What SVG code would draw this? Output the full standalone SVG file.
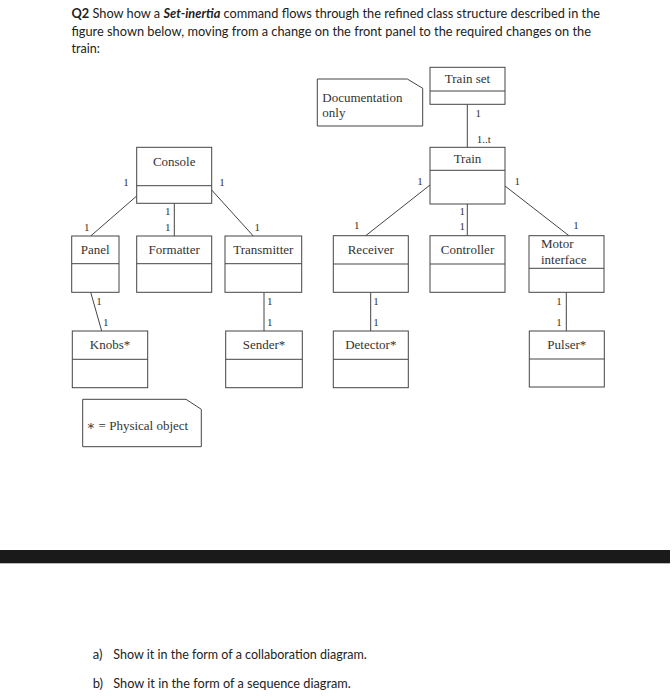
<svg xmlns="http://www.w3.org/2000/svg" width="672" height="700" viewBox="0 0 672 700">
<style>
.q{font-family:Lato,"Open Sans","Liberation Sans",sans-serif;font-size:13px;fill:#222}
.b{fill:#fff;stroke:#444;stroke-width:1}
.d{stroke:#444;stroke-width:1}
.n{font-family:"Liberation Serif","DejaVu Serif",serif;font-size:13px;fill:#333;text-anchor:middle}
.m{font-family:"Liberation Serif","DejaVu Serif",serif;font-size:11px;fill:#333;text-anchor:middle}
.c{stroke:#444;stroke-width:1;fill:none}
</style>
<rect width="672" height="700" fill="#fff"/>
<g id="question">
<text class="q" x="71.5" y="17.5" textLength="528.5" lengthAdjust="spacingAndGlyphs"><tspan font-weight="bold">Q2</tspan> Show how a <tspan font-weight="bold" font-style="italic">Set-inertia</tspan> command flows through the refined class structure described in the</text>
<text class="q" x="71.5" y="35.5" textLength="519.5" lengthAdjust="spacingAndGlyphs">figure shown below, moving from a change on the front panel to the required changes on the</text>
<text class="q" x="71.5" y="53" textLength="28.5" lengthAdjust="spacingAndGlyphs">train:</text>
</g>
<g id="connectors">
<line class="c" x1="136.7" y1="196" x2="90.7" y2="236"/>
<line class="c" x1="174.3" y1="203.3" x2="174.3" y2="236"/>
<line class="c" x1="211.7" y1="190" x2="253.3" y2="236"/>
<line class="c" x1="467.3" y1="104.3" x2="467.3" y2="147.3"/>
<line class="c" x1="430" y1="185" x2="365.7" y2="235.7"/>
<line class="c" x1="467.3" y1="204" x2="467.3" y2="235.7"/>
<line class="c" x1="505" y1="186" x2="569" y2="235.7"/>
<line class="c" x1="90.7" y1="292.3" x2="101.7" y2="331"/>
<line class="c" x1="264" y1="292.3" x2="264" y2="331"/>
<line class="c" x1="370.7" y1="292.3" x2="370.7" y2="331"/>
<line class="c" x1="566.3" y1="292.3" x2="566.3" y2="331"/>
<text class="m" x="126" y="186">1</text>
<text class="m" x="222" y="186">1</text>
<text class="m" x="86.7" y="231">1</text>
<text class="m" x="167.7" y="214.5">1</text>
<text class="m" x="167.7" y="231.4">1</text>
<text class="m" x="257.3" y="231">1</text>
<text class="m" x="478.3" y="116.5">1</text>
<text class="m" x="476.7" y="143" style="text-anchor:start">1..t</text>
<text class="m" x="420" y="185.4">1</text>
<text class="m" x="517.3" y="185.4">1</text>
<text class="m" x="356.7" y="229.4">1</text>
<text class="m" x="462.3" y="215.4">1</text>
<text class="m" x="462.3" y="230.4">1</text>
<text class="m" x="576" y="229.4">1</text>
<text class="m" x="99" y="305.4">1</text>
<text class="m" x="105.7" y="326.4">1</text>
<text class="m" x="269.7" y="305.4">1</text>
<text class="m" x="269.7" y="326.4">1</text>
<text class="m" x="376" y="305.4">1</text>
<text class="m" x="376" y="326.4">1</text>
<text class="m" x="559" y="305.4">1</text>
<text class="m" x="559" y="326.4">1</text>
</g>
<g id="train-set">
<rect class="b" x="430" y="67.3" width="75" height="37"/>
<line class="d" x1="430" y1="91" x2="505" y2="91"/>
<text class="n" x="467.5" y="83.3">Train set</text>
</g>
<g id="documentation-note">
<polygon class="b" points="317.3,79 407.3,79 422.7,88.3 422.7,126 317.3,126"/>
<text class="n" x="322.3" y="101.7" style="text-anchor:start">Documentation</text>
<text class="n" x="322.3" y="117.3" style="text-anchor:start">only</text>
</g>
<g id="console">
<rect class="b" x="136.7" y="147.3" width="75" height="56"/>
<line class="d" x1="136.7" y1="185.7" x2="211.7" y2="185.7"/>
<text class="n" x="174.2" y="166">Console</text>
</g>
<g id="train">
<rect class="b" x="430" y="147.3" width="75" height="56.7"/>
<line class="d" x1="430" y1="170.3" x2="505" y2="170.3"/>
<text class="n" x="467.5" y="163.3">Train</text>
</g>
<g id="panel">
<rect class="b" x="71.7" y="236" width="47.3" height="56.3"/>
<line class="d" x1="71.7" y1="263.7" x2="119" y2="263.7"/>
<text class="n" x="95.3" y="254">Panel</text>
</g>
<g id="formatter">
<rect class="b" x="136.7" y="236" width="75" height="56.3"/>
<line class="d" x1="136.7" y1="263.7" x2="211.7" y2="263.7"/>
<text class="n" x="174.2" y="254">Formatter</text>
</g>
<g id="transmitter">
<rect class="b" x="225" y="236" width="76.7" height="56.3"/>
<line class="d" x1="225" y1="263.7" x2="301.7" y2="263.7"/>
<text class="n" x="263.3" y="254">Transmitter</text>
</g>
<g id="receiver">
<rect class="b" x="333.3" y="235.7" width="75" height="56.6"/>
<line class="d" x1="333.3" y1="264" x2="408.3" y2="264"/>
<text class="n" x="370.8" y="254">Receiver</text>
</g>
<g id="controller">
<rect class="b" x="430" y="235.7" width="75" height="56.6"/>
<line class="d" x1="430" y1="264" x2="505" y2="264"/>
<text class="n" x="467.5" y="254">Controller</text>
</g>
<g id="motor-interface">
<rect class="b" x="529" y="235.7" width="75" height="56.6"/>
<line class="d" x1="529" y1="268.3" x2="604" y2="268.3"/>
<text class="n" x="541" y="248.3" style="text-anchor:start">Motor</text>
<text class="n" x="541" y="264" style="text-anchor:start">interface</text>
</g>
<g id="knobs">
<rect class="b" x="72.3" y="331" width="75.4" height="56.7"/>
<line class="d" x1="72.3" y1="359.3" x2="147.7" y2="359.3"/>
<text class="n" x="110" y="349.3">Knobs*</text>
</g>
<g id="sender">
<rect class="b" x="225.7" y="331" width="76.6" height="56.7"/>
<line class="d" x1="225.7" y1="359.3" x2="302.3" y2="359.3"/>
<text class="n" x="264" y="349.3">Sender*</text>
</g>
<g id="detector">
<rect class="b" x="333.3" y="331" width="75" height="56.7"/>
<line class="d" x1="333.3" y1="359.3" x2="408.3" y2="359.3"/>
<text class="n" x="370.8" y="349.3">Detector*</text>
</g>
<g id="pulser">
<rect class="b" x="529.3" y="331" width="75" height="56"/>
<line class="d" x1="529.3" y1="359" x2="604.3" y2="359"/>
<text class="n" x="566.8" y="349.3">Pulser*</text>
</g>
<g id="physical-object-note">
<polygon class="b" points="82.7,399.3 186,399.3 201.3,409.3 201.3,446.7 82.7,446.7"/>
<text class="n" x="86.5" y="430" style="text-anchor:start">∗ = Physical object</text>
</g>
<rect id="black-bar" x="0" y="550" width="670" height="13.3" fill="#1a1a1a"/>
<g id="tasks">
<text class="q" x="92.7" y="659">a)</text>
<text class="q" x="113.3" y="659" textLength="253.4" lengthAdjust="spacingAndGlyphs">Show it in the form of a collaboration diagram.</text>
<text class="q" x="92.7" y="688">b)</text>
<text class="q" x="113.3" y="688" textLength="237.4" lengthAdjust="spacingAndGlyphs">Show it in the form of a sequence diagram.</text>
</g>
</svg>
